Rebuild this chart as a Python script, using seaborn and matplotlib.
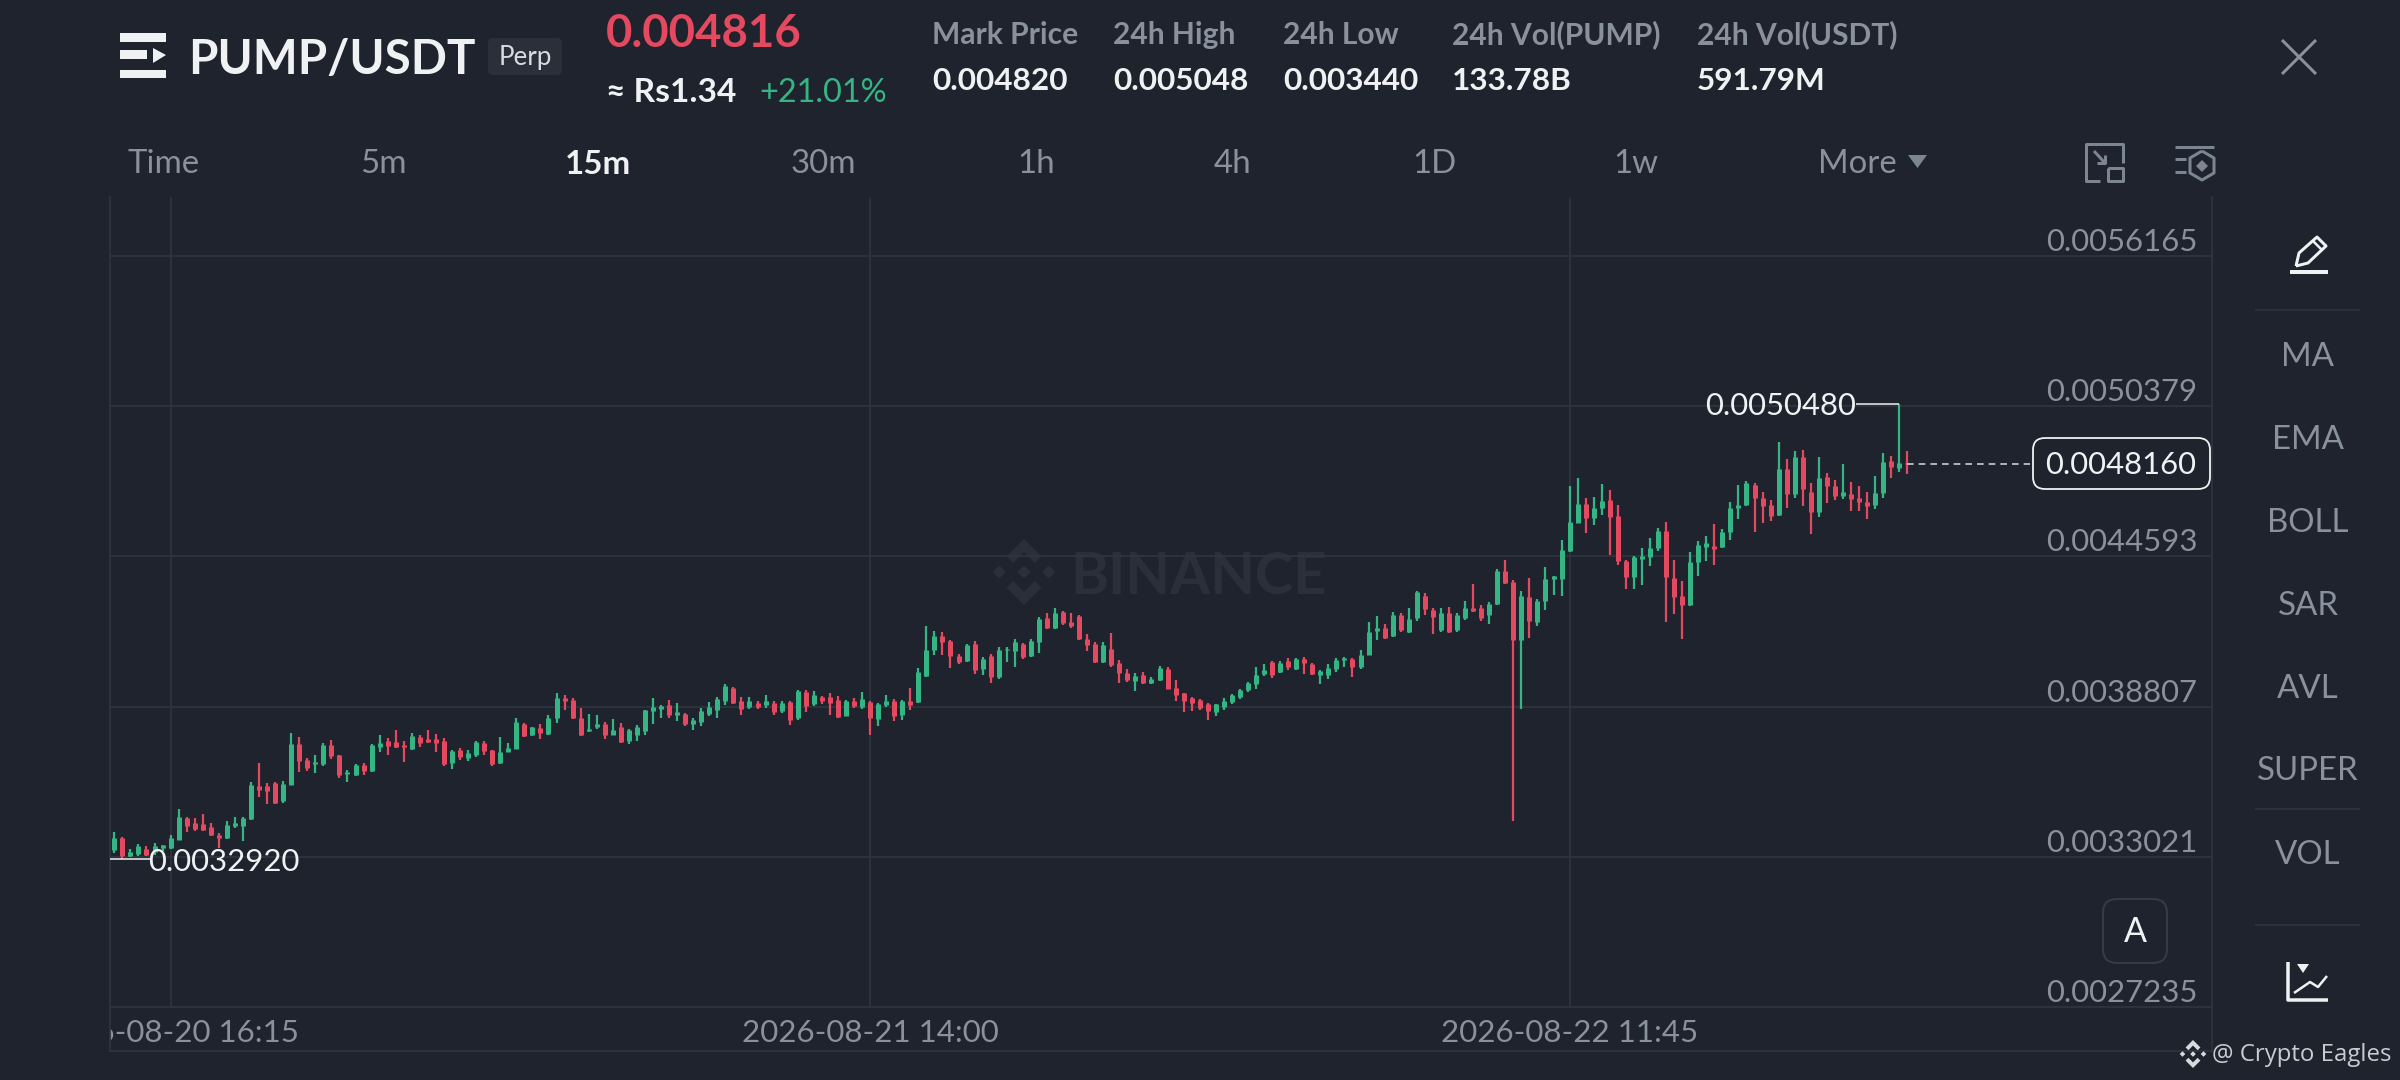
import numpy as np
import pandas as pd
import matplotlib
matplotlib.use('Agg')
import matplotlib.pyplot as plt
from matplotlib.patches import FancyBboxPatch, Polygon
from matplotlib.transforms import ScaledTranslation
import seaborn as sns

# candle values, in millionths of a USDT
opens = [
    3329,3373,3306,3314,3332,3319,3335,3335,3368,3452,
    3432,3427,3416,3386,3373,3419,3419,3447,3573,3573,
    3586,3516,3579,3735,3676,3660,3658,3732,3694,3622,
    3617,3655,3632,3727,3748,3745,3732,3717,3763,3755,
    3755,3750,3663,3714,3683,3696,3742,3712,3663,3707,
    3719,3814,3771,3799,3776,3837,3914,3907,3835,3786,
    3802,3814,3773,3804,3748,3771,3786,3863,3871,3886,
    3850,3853,3814,3822,3853,3868,3904,3953,3904,3881,
    3894,3886,3896,3863,3899,3835,3938,3891,3917,3917,
    3907,3845,3902,3881,3899,3832,3886,3904,3850,3904,
    3899,3999,4097,4151,4133,4074,4058,4122,4025,4076,
    3994,4097,4094,4122,4076,4128,4223,4184,4246,4205,
    4230,4140,4122,4051,4102,4048,4009,3979,4004,3973,
    3984,4027,3953,3932,3912,3907,3889,3860,3881,3899,
    3917,3945,3966,4007,4053,4015,4056,4027,4066,4045,
    4004,4004,4025,4061,4063,4033,4081,4171,4184,4151,
    4235,4169,4223,4307,4253,4174,4243,4174,4223,4259,
    4259,4233,4276,4402,4361,4138,4302,4207,4287,4374,
    4371,4479,4590,4662,4608,4644,4677,4615,4441,4379,
    4451,4456,4492,4556,4376,4305,4271,4438,4497,4500,
    4495,4554,4644,4656,4736,4685,4656,4618,4795,4700,
    4844,4708,4629,4765,4731,4693,4700,4685,4670,4659,
    4703,4826,4801,4821,
]
closes = [
    3373,3306,3321,3342,3311,3344,3347,3373,3457,3421,
    3411,3406,3386,3373,3424,3434,3452,3578,3560,3555,
    3511,3583,3735,3673,3645,3668,3732,3689,3617,3630,
    3655,3632,3732,3742,3730,3727,3727,3766,3742,3745,
    3742,3658,3709,3686,3701,3745,3709,3658,3707,3722,
    3822,3768,3802,3781,3837,3912,3902,3835,3773,3794,
    3814,3771,3789,3745,3789,3801,3866,3881,3884,3848,
    3861,3814,3830,3863,3881,3909,3961,3894,3871,3902,
    3879,3904,3861,3896,3830,3940,3884,3925,3904,3894,
    3840,3902,3884,3909,3835,3891,3904,3845,3904,3886,
    4015,4097,4153,4130,4076,4053,4117,4022,4066,3994,
    4097,4104,4130,4071,4133,4220,4184,4241,4202,4192,
    4140,4117,4051,4120,4040,4009,3984,3999,3973,3989,
    4030,3950,3927,3904,3894,3876,3863,3889,3904,3925,
    3945,3971,4002,4022,4004,4048,4035,4063,4048,4007,
    4017,4030,4061,4068,4035,4081,4169,4184,4145,4233,
    4174,4220,4323,4256,4225,4243,4169,4235,4259,4248,
    4223,4276,4405,4356,4138,4307,4210,4289,4371,4382,
    4484,4592,4662,4608,4644,4674,4613,4443,4379,4456,
    4461,4492,4559,4379,4302,4274,4436,4505,4510,4487,
    4554,4646,4656,4741,4685,4654,4615,4795,4700,4844,
    4721,4629,4762,4729,4693,4708,4682,4670,4652,4703,
    4824,4803,4819,4816,
]
highs = [
    3396,3378,3332,3352,3344,3355,3348,3386,3486,3455,
    3450,3468,3434,3393,3439,3457,3457,3592,3663,3586,
    3591,3595,3778,3763,3683,3696,3740,3753,3696,3635,
    3658,3663,3737,3773,3758,3789,3750,3781,3771,3789,
    3776,3758,3714,3722,3712,3748,3748,3714,3763,3740,
    3837,3819,3804,3812,3848,3932,3927,3912,3876,3853,
    3848,3822,3832,3817,3794,3809,3868,3914,3886,3907,
    3894,3855,3835,3876,3899,3917,3966,3956,3917,3917,
    3902,3927,3902,3904,3904,3945,3943,3940,3922,3932,
    3922,3907,3914,3938,3904,3896,3925,3909,3907,3953,
    4030,4192,4171,4169,4138,4084,4122,4133,4071,4084,
    4112,4112,4140,4125,4140,4225,4241,4261,4251,4241,
    4235,4161,4128,4128,4164,4061,4025,4009,4015,3994,
    4038,4033,3984,3935,3917,3909,3896,3891,3914,3930,
    3950,3976,4035,4045,4058,4058,4068,4068,4071,4048,
    4022,4045,4068,4071,4068,4097,4207,4230,4199,4246,
    4241,4259,4328,4318,4259,4261,4266,4243,4287,4354,
    4274,4282,4410,4446,4369,4328,4376,4297,4420,4384,
    4523,4731,4762,4685,4687,4739,4715,4659,4446,4461,
    4492,4531,4569,4592,4446,4364,4477,4520,4538,4584,
    4566,4669,4736,4749,4741,4708,4677,4901,4834,4865,
    4870,4744,4844,4780,4752,4816,4747,4729,4706,4770,
    4857,4847,5048,4865,
]
lows = [
    3316,3292,3301,3306,3306,3310,3323,3332,3365,3396,
    3403,3400,3383,3337,3370,3414,3362,3442,3532,3506,
    3506,3511,3578,3629,3632,3624,3653,3678,3604,3591,
    3614,3617,3629,3706,3694,3722,3668,3712,3727,3742,
    3706,3653,3640,3676,3671,3686,3694,3653,3660,3704,
    3717,3763,3768,3755,3771,3819,3868,3832,3768,3784,
    3794,3755,3771,3740,3735,3750,3771,3814,3835,3835,
    3825,3807,3791,3807,3843,3835,3886,3891,3848,3871,
    3873,3876,3850,3855,3809,3830,3861,3884,3891,3850,
    3837,3843,3876,3873,3771,3807,3879,3827,3830,3866,
    3894,3994,4079,4079,4030,4043,4053,4007,4004,3971,
    3989,4053,4033,4063,4071,4087,4179,4179,4194,4184,
    4138,4094,4048,4048,4035,3971,3976,3940,3966,3966,
    3981,3948,3904,3860,3863,3866,3830,3845,3868,3891,
    3909,3938,3950,3999,3991,4012,4022,4022,4007,4004,
    3968,3986,4015,4033,3994,4025,4079,4138,4140,4148,
    4169,4166,4210,4233,4161,4169,4163,4169,4215,4246,
    4212,4199,4274,4354,3440,3871,4145,4192,4253,4310,
    4305,4477,4587,4551,4579,4620,4464,4425,4333,4335,
    4351,4423,4482,4207,4238,4143,4269,4382,4441,4425,
    4492,4523,4602,4654,4554,4590,4595,4616,4644,4685,
    4652,4546,4611,4667,4677,4682,4636,4636,4605,4641,
    4685,4760,4783,4778,
]

price_ticks = [0.0056165, 0.0050379, 0.0044593, 0.0038807, 0.0033021, 0.0027235]
time_ticks = [7, 94, 181]
time_labels = ['2026-08-20 16:15', '2026-08-21 14:00', '2026-08-22 11:45']
intervals = ['5m', '15m', '30m', '1h', '4h', '1D', '1w']
interval_x = [383, 598, 823, 1036, 1232, 1434, 1636]
stat_names = ['Mark Price', '24h High', '24h Low', '24h Vol(PUMP)', '24h Vol(USDT)']
stat_values = ['0.004820', '0.005048', '0.003440', '133.78B', '591.79M']
stat_x = [932, 1113, 1283, 1452, 1697]
indicators = ['MA', 'EMA', 'BOLL', 'SAR', 'AVL', 'SUPER', 'VOL']
indicator_y = [354, 437, 520, 603, 686, 768, 852]

BG = '#1e232d'
GRID = '#2f343e'
GREY = '#89919d'
WHITE = '#f0f1f3'
GREEN = '#35b583'
RED = '#e5495f'
TEXT_SHIFT = 3

sns.set_theme(style='darkgrid', rc={
    'figure.facecolor': BG,
    'axes.facecolor': BG,
    'axes.edgecolor': GRID,
    'grid.color': GRID,
    'axes.linewidth': 1.2,
    'grid.linewidth': 1.2,
})
plt.rcParams['font.family'] = ['Lato', 'DejaVu Sans']

# build long tables for seaborn, one vertical segment per candle
n = len(opens)
candle = np.arange(n)
scale = 1e-6
o = np.array(opens) * scale
c = np.array(closes) * scale
h = np.array(highs) * scale
l = np.array(lows) * scale
direction = np.where(np.array(closes) >= np.array(opens), 'up', 'down')

wicks = pd.DataFrame({
    'candle': np.tile(candle, 2),
    'price': np.concatenate([l, h]),
    'direction': np.tile(direction, 2),
})
bodies = pd.DataFrame({
    'candle': np.tile(candle, 2),
    'price': np.concatenate([o, c]),
    'direction': np.tile(direction, 2),
})

fig = plt.figure(figsize=(24, 10.8), dpi=100)
ax = fig.add_axes([110 / 2400, 29 / 1080, 2102 / 2400, 854 / 1080])
ui = fig.add_axes([0, 0, 1, 1], zorder=5)
ui.set_xlim(0, 2400)
ui.set_ylim(1080, 0)
ui.axis('off')
ui.patch.set_alpha(0)


def put(x, y, s, px, color=GREY, ha='left', weight='normal', target=None, **kw):
    target = target or ui
    return target.text(x, y + TEXT_SHIFT, s, fontsize=px * 0.72, color=color, ha=ha, va='center',
                       fontweight=weight, transform=ui.transData, **kw)


def stroke(xs, ys, color=GREY, px=2.5, **kw):
    kw.setdefault('solid_capstyle', 'butt')
    ui.plot(xs, ys, color=color, lw=px * 0.72, **kw)


def fill(points, color, target=None, z=6):
    (target or ui).add_patch(Polygon(points, closed=True, fc=color, ec='none', lw=0,
                                     transform=ui.transData, zorder=z))


def binance_logo(cx, cy, r, color, target=None, z=6):
    for dx in (-0.75, 0, 0.75):
        fill([(cx + (dx - 0.2) * r, cy), (cx + dx * r, cy - 0.2 * r),
              (cx + (dx + 0.2) * r, cy), (cx + dx * r, cy + 0.2 * r)], color, target, z)
    for sign in (-1, 1):
        fill([(cx, cy + sign * r), (cx + 0.53 * r, cy + sign * 0.47 * r),
              (cx + 0.33 * r, cy + sign * 0.27 * r), (cx, cy + sign * 0.6 * r),
              (cx - 0.33 * r, cy + sign * 0.27 * r), (cx - 0.53 * r, cy + sign * 0.47 * r)],
             color, target, z)


# candles
palette = {'up': GREEN, 'down': RED}
sns.lineplot(data=wicks, x='candle', y='price', hue='direction', units='candle', estimator=None,
             sort=False, palette=palette, linewidth=1.6, legend=False, ax=ax,
             solid_capstyle='butt', zorder=3)
sns.lineplot(data=bodies, x='candle', y='price', hue='direction', units='candle', estimator=None,
             sort=False, palette=palette, linewidth=3.6, legend=False, ax=ax,
             solid_capstyle='butt', zorder=3)

ax.set_xlim(-0.535, 260.9)
ax.set_ylim(0.002554, 0.005844)
ax.set_xlabel('')
ax.set_ylabel('')
ax.spines['top'].set_visible(False)
ax.grid(axis='x', visible=False)
ax.vlines(time_ticks, price_ticks[-1], ax.get_ylim()[1], color=GRID, lw=1.2, zorder=0.5)

ax.yaxis.tick_right()
ax.set_yticks(price_ticks)
ax.set_yticklabels([f'{p:.7f}' for p in price_ticks])
ax.tick_params(axis='y', length=0, pad=-10.5, labelsize=22.4, labelcolor=GREY)
for lab in ax.get_yticklabels():
    lab.set_ha('right')
    lab.set_va('center')
    lab.set_transform(lab.get_transform() + ScaledTranslation(0, 14 / 100, fig.dpi_scale_trans))

ax.set_xticks(time_ticks)
ax.set_xticklabels(time_labels)
ax.tick_params(axis='x', length=0, pad=-13, labelsize=22.5, labelcolor=GREY)
for lab in ax.get_xticklabels():
    lab.set_va('center')
    lab.set_clip_box(ax.bbox)
    lab.set_clip_on(True)

# faint watermark behind the candles
binance_logo(1024, 572, 33, '#2a2f3a', ax, 0.4)
put(1199, 575, 'BINANCE', 58, '#2a2f3a', ha='center', weight='bold', target=ax, zorder=0.4)

# high / low / last markers
x_high = highs.index(max(highs))
x_low = lows.index(min(lows))
ax.plot([216.6, x_high], [h[x_high], h[x_high]], color=WHITE, lw=1.1, zorder=4, solid_capstyle='butt')
ax.text(216.6, h[x_high] - 0.000008, f'{h[x_high]:.7f}', color=WHITE, fontsize=22.4, ha='right', va='center', zorder=4)
ax.plot([-0.535, 4.4], [l[x_low], l[x_low]], color=WHITE, lw=1.1, zorder=4, solid_capstyle='butt')
ax.text(4.2, l[x_low] - 0.000011, f'{l[x_low]:.7f}', color=WHITE, fontsize=22.4, ha='left', va='center', zorder=4)
ax.plot([n - 1, 238.3], [c[-1], c[-1]], color='#c9ccd1', lw=1.2, ls=(0, (4, 3)), zorder=4)

ui.add_patch(FancyBboxPatch((2039, 444), 165, 39, boxstyle='round,pad=6,rounding_size=12',
                            fc=BG, ec=WHITE, lw=1.3, zorder=4))
put(2196, 462, f'{c[-1]:.7f}', 31, WHITE, ha='right', zorder=7)

# header
fill([(120, 33), (166, 33), (166, 42), (120, 42)], WHITE)
fill([(120, 50), (147, 50), (147, 59), (120, 59)], WHITE)
fill([(153, 48), (166, 55), (153, 63)], WHITE)
fill([(120, 70), (166, 70), (166, 78), (120, 78)], WHITE)
put(188, 57, 'PUMP/USDT', 47.5, WHITE, weight='bold')
ui.add_patch(FancyBboxPatch((492, 42), 66, 29, boxstyle='round,pad=4,rounding_size=5',
                            fc='#2a2f3a', ec='none', zorder=4))
put(525, 54, 'Perp', 26, '#d9dbdf', ha='center', zorder=7)
put(606, 31, '0.004816', 45.5, RED, weight='bold')
put(606, 90, '≈ Rs1.34', 33.5, WHITE, weight='bold')
put(759, 90, '+21.01%', 32.5, GREEN)
for x, name, value in zip(stat_x, stat_names, stat_values):
    put(x, 32, name, 30, GREY, weight='bold')
    put(x, 78, value, 31.5, WHITE, weight='bold')
stroke([2282, 2316], [40, 74], px=3)
stroke([2282, 2316], [74, 40], px=3)

# interval row
put(127, 161, 'Time', 33, GREY)
for x, label in zip(interval_x, intervals):
    active = label == '15m'
    put(x, 161, label, 33, WHITE if active else GREY, ha='center', weight='bold' if active else 'normal')
put(1818, 161, 'More', 33, GREY)
fill([(1908, 155), (1927, 155), (1917.5, 168)], '#7c8592')

# the two small toolbar icons
ICON = '#7c8592'
stroke([2100, 2086, 2086, 2123, 2123], [181, 181, 144, 144, 163], ICON, 3)
stroke([2108, 2123, 2123, 2108, 2108], [168, 168, 181, 181, 168], ICON, 3)
stroke([2094, 2105], [151, 163], ICON, 3)
stroke([2097, 2105, 2105], [163, 163, 155], ICON, 3)
stroke([2175, 2214], [147, 147], ICON, 3)
stroke([2175, 2186], [159, 159], ICON, 3)
stroke([2175, 2186], [172, 172], ICON, 3)
stroke([2202, 2214, 2214, 2202, 2190, 2190, 2202], [151, 158, 173, 180, 173, 158, 151], ICON, 3)
fill([(2202, 160), (2208, 166), (2202, 172), (2196, 166)], ICON)

# side menu
stroke([2296, 2299, 2317, 2326, 2308, 2296], [266, 253, 237, 246, 263, 266], WHITE, 3)
stroke([2313, 2322], [241, 250], WHITE, 2.5)
stroke([2290, 2328], [272, 272], WHITE, 4)
for y in (310, 809, 925):
    stroke([2255, 2360], [y, y], GRID, 1.6)
for y, label in zip(indicator_y, indicators):
    put(2308, y, label, 33, GREY, ha='center')
stroke([2288, 2288, 2328], [962, 1000, 1000], WHITE, 3.5)
fill([(2297, 964), (2309, 964), (2303, 973)], WHITE)
stroke([2294, 2310, 2318, 2327], [993, 982, 987, 976], WHITE, 2.5)

# auto button
ui.add_patch(FancyBboxPatch((2115, 911), 40, 40, boxstyle='round,pad=12,rounding_size=14',
                            fc=BG, ec='#353a45', lw=1.5, zorder=4))
put(2135, 929, 'A', 34, WHITE, ha='center', zorder=7)

# attribution
binance_logo(2193, 1054, 14, '#d8dadd')
put(2212, 1052, '@ Crypto Eagles', 24, '#c9cbcf', family=['Open Sans', 'DejaVu Sans'])

fig.savefig('out.png', dpi=100, facecolor=BG)
